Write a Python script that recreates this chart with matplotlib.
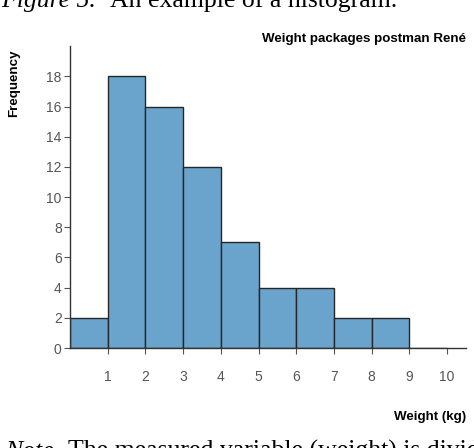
import matplotlib
matplotlib.use("Agg")
from matplotlib import pyplot as plt

# histogram data: weight classes (kg) and counts
bin_left = [0, 1, 2, 3, 4, 5, 6, 7, 8, 9]
counts = [2, 18, 16, 12, 7, 4, 4, 2, 2, 0]
x_ticks = [1, 2, 3, 4, 5, 6, 7, 8, 9, 10]
y_ticks = [0, 2, 4, 6, 8, 10, 12, 14, 16, 18]

title = "Weight packages postman René"
caption_top = "An example of a histogram."
caption_bottom = "The measured variable (weight) is divided"

fig = plt.figure(figsize=(4.74, 4.48), dpi=100)
ax = fig.add_axes([0.1477, 0.2232, 0.983 - 0.1477, 0.897 - 0.2232])

ax.bar(bin_left, counts, width=1.0, align='edge', color='#6aa4cd',
       edgecolor='#262626', linewidth=1.0)

ax.set_xlim(0, 10.5)
ax.set_ylim(0, 20)
ax.set_xticks(x_ticks)
ax.set_yticks(y_ticks)
for s in ['top', 'right']:
    ax.spines[s].set_visible(False)
for s in ['left', 'bottom']:
    ax.spines[s].set_color('#333333')
    ax.spines[s].set_linewidth(1.0)
ax.tick_params(axis='x', length=4, pad=12, colors='#555555', labelsize=10)
ax.tick_params(axis='y', length=4, pad=2, colors='#555555', labelsize=10)
for lab in ax.get_xticklabels() + ax.get_yticklabels():
    lab.set_fontfamily('Liberation Sans')

fig.text(0.983, 0.913, title, ha='right', va='center', fontsize=9.6,
         fontweight='bold', family='Liberation Sans')
fig.text(0.029, 0.815, "Frequency", rotation=90, ha='center', va='center',
         fontsize=9.6, fontweight='bold', family='Liberation Sans')
fig.text(0.983, 0.069, "Weight (kg)", ha='right', va='center', fontsize=9.6,
         fontweight='bold', family='Liberation Sans')

# scanned captions, cut at the top and bottom of the picture
fig.text(0.202, 0.984, "Figure 5.", ha='right', va='baseline', fontsize=18.5,
         style='italic', family='Liberation Serif')
fig.text(0.232, 0.984, caption_top, ha='left', va='baseline', fontsize=18.5,
         family='Liberation Serif')
fig.text(0.01, -0.022, "Note.", ha='left', va='baseline', fontsize=18.5,
         style='italic', family='Liberation Serif')
fig.text(0.143, -0.022, caption_bottom, ha='left', va='baseline', fontsize=18.5,
         family='Liberation Serif')

fig.savefig("out.png", dpi=100)
